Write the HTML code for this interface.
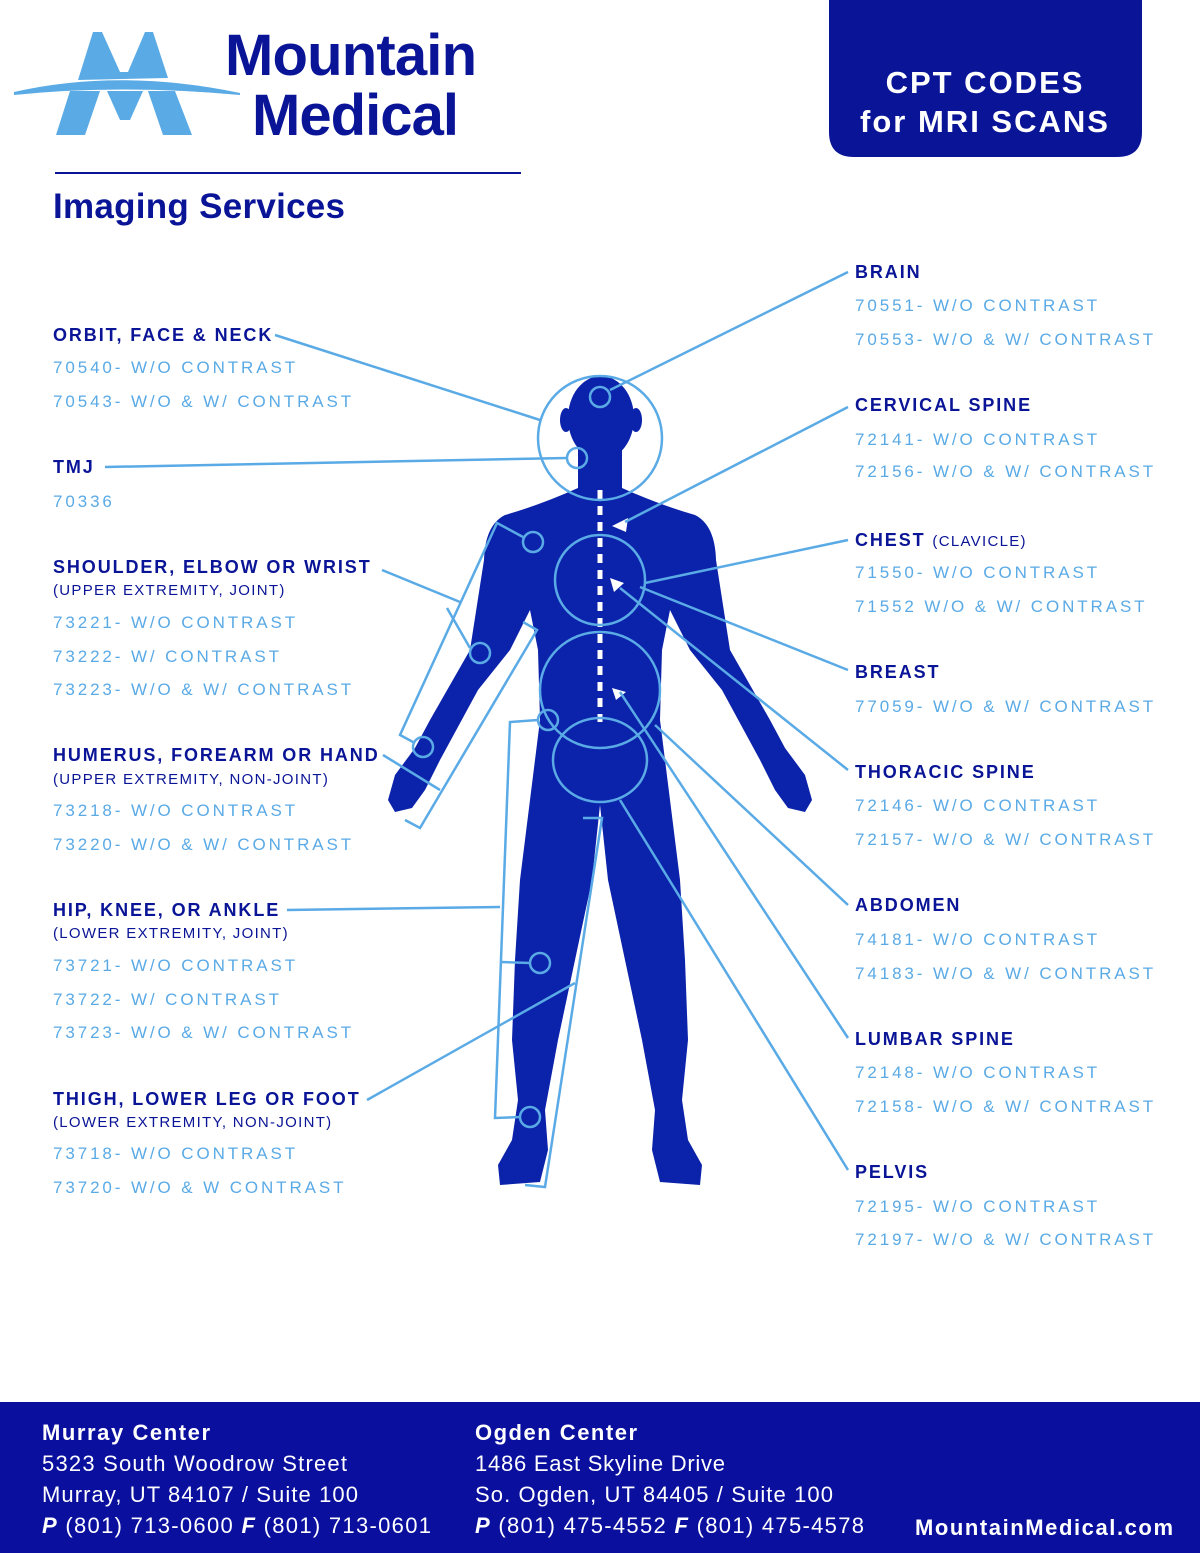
<!DOCTYPE html>
<html><head><meta charset="utf-8"><style>
html,body{margin:0;padding:0;background:#fff;}
body{width:1200px;height:1553px;position:relative;overflow:hidden;font-family:"Liberation Sans",sans-serif;}
svg{position:absolute;left:0;top:0;}
.l{font-weight:bold;fill:#0a1496;font-size:18px;letter-spacing:1.9px;}
.c{fill:#5aaae6;font-size:17px;letter-spacing:2.9px;}
.s{fill:#0a1496;font-size:15px;letter-spacing:1.3px;}
</style></head><body>
<svg width="1200" height="1553" viewBox="0 0 1200 1553">
<g fill="#5aaae6">
<polygon points="78,80 93,32 102,32 120,72 128,72 145,32 153,32 168,78"/>
<path d="M14,92 Q120,68 240,93 L240,95 Q120,84 14,95 Z"/>
<polygon points="70,91 100,91 85,135 56,135"/>
<polygon points="107,91 143,91 130,120 120,120"/>
<polygon points="148,91 175,91 192,135 163,135"/>
</g>
<text x="225" y="75" font-size="58" font-weight="bold" fill="#0a1496" textLength="252">Mountain</text>
<text x="252" y="135" font-size="58" font-weight="bold" fill="#0a1496" textLength="207">Medical</text>
<rect x="55" y="172" width="466" height="2" fill="#0a1496"/>
<text x="53" y="218" font-size="35" font-weight="bold" fill="#0a1496" textLength="292">Imaging Services</text>
<path d="M829,0 H1142 V132 Q1142,157 1117,157 H854 Q829,157 829,132 Z" fill="#0a1496"/>
<text x="985" y="93" text-anchor="middle" font-size="31" font-weight="bold" fill="#fff" letter-spacing="2">CPT CODES</text>
<text x="985" y="132" text-anchor="middle" font-size="31" font-weight="bold" fill="#fff" letter-spacing="2">for MRI SCANS</text>
<g fill="#0b22aa">
<ellipse cx="601" cy="418" rx="33" ry="42"/>
<ellipse cx="566" cy="420" rx="6" ry="12"/><ellipse cx="636" cy="420" rx="6" ry="12"/>
<path d="M578,440 L578,488 Q540,505 505,515 Q485,525 484,560 L470,650 L430,720 L415,748 L395,775 L388,800 L395,812 L412,808 L425,790 L440,760 L478,690 L510,650 L530,610 L538,650 L540,720 L530,800 L520,880 L515,960 L512,1040 L518,1100 L512,1140 L498,1165 L500,1185 L540,1182 L548,1150 L545,1110 L558,1040 L575,960 L592,880 L600,805 L608,880 L625,960 L642,1040 L655,1110 L652,1150 L660,1182 L700,1185 L702,1165 L688,1140 L682,1100 L688,1040 L685,960 L680,880 L670,800 L660,720 L662,650 L670,610 L690,650 L722,690 L760,760 L775,790 L788,808 L805,812 L812,800 L805,775 L785,748 L770,720 L730,650 L716,560 Q715,525 695,515 Q660,505 622,488 L622,440 Z"/>
</g>
<line x1="600" y1="490" x2="600" y2="722" stroke="#fff" stroke-width="5" stroke-dasharray="9,7"/>
<g fill="#fff">
<polygon points="612,526 628,518 626,532"/>
<polygon points="610,578 624,583 614,592"/>
<polygon points="612,688 626,692 616,700"/>
</g>
<g fill="none" stroke="#5aaae6" stroke-width="2.5">
<circle cx="600" cy="438" r="62"/>
<circle cx="600" cy="397" r="10"/><circle cx="577" cy="458" r="10"/>
<circle cx="533" cy="542" r="10"/><circle cx="480" cy="653" r="10"/><circle cx="423" cy="747" r="10"/>
<circle cx="548" cy="720" r="10"/><circle cx="540" cy="963" r="10"/><circle cx="530" cy="1117" r="10"/>
<circle cx="600" cy="580" r="45"/>
<ellipse cx="600" cy="690" rx="60" ry="58"/>
<ellipse cx="600" cy="760" rx="47" ry="42"/>
<line x1="848" y1="272" x2="610" y2="390"/>
<line x1="275" y1="335" x2="540" y2="420"/>
<line x1="105" y1="467" x2="567" y2="458"/>
<line x1="848" y1="407" x2="625" y2="522"/>
<line x1="848" y1="540" x2="645" y2="583"/>
<line x1="848" y1="670" x2="640" y2="587"/>
<line x1="848" y1="770" x2="620" y2="588"/>
<line x1="848" y1="905" x2="655" y2="725"/>
<line x1="848" y1="1038" x2="620" y2="692"/>
<line x1="848" y1="1170" x2="620" y2="800"/>
<line x1="382" y1="570" x2="460" y2="602"/>
<polyline points="523,537 497,523 400,735 413,742"/>
<line x1="447" y1="608" x2="470" y2="648"/>
<line x1="383" y1="755" x2="440" y2="790"/>
<polyline points="523,622 537,630 420,828 405,820"/>
<line x1="287" y1="910" x2="500" y2="907"/>
<polyline points="538,720 510,722 495,1118 520,1117"/>
<line x1="500" y1="962" x2="530" y2="963"/>
<line x1="367" y1="1100" x2="575" y2="983"/>
<polyline points="583,818 602,818 545,1187 525,1185"/>
</g>
<text class="l" x="53" y="341">ORBIT, FACE &amp; NECK</text>
<text class="c" x="53" y="373">70540- W/O CONTRAST</text>
<text class="c" x="53" y="407">70543- W/O &amp; W/ CONTRAST</text>
<text class="l" x="53" y="473">TMJ</text>
<text class="c" x="53" y="507">70336</text>
<text class="l" x="53" y="573">SHOULDER, ELBOW OR WRIST</text>
<text class="s" x="53" y="595">(UPPER EXTREMITY, JOINT)</text>
<text class="c" x="53" y="628">73221- W/O CONTRAST</text>
<text class="c" x="53" y="662">73222- W/ CONTRAST</text>
<text class="c" x="53" y="695">73223- W/O &amp; W/ CONTRAST</text>
<text class="l" x="53" y="761">HUMERUS, FOREARM OR HAND</text>
<text class="s" x="53" y="784">(UPPER EXTREMITY, NON-JOINT)</text>
<text class="c" x="53" y="816">73218- W/O CONTRAST</text>
<text class="c" x="53" y="850">73220- W/O &amp; W/ CONTRAST</text>
<text class="l" x="53" y="916">HIP, KNEE, OR ANKLE</text>
<text class="s" x="53" y="938">(LOWER EXTREMITY, JOINT)</text>
<text class="c" x="53" y="971">73721- W/O CONTRAST</text>
<text class="c" x="53" y="1005">73722- W/ CONTRAST</text>
<text class="c" x="53" y="1038">73723- W/O &amp; W/ CONTRAST</text>
<text class="l" x="53" y="1105">THIGH, LOWER LEG OR FOOT</text>
<text class="s" x="53" y="1127">(LOWER EXTREMITY, NON-JOINT)</text>
<text class="c" x="53" y="1159">73718- W/O CONTRAST</text>
<text class="c" x="53" y="1193">73720- W/O &amp; W CONTRAST</text>
<text class="l" x="855" y="278">BRAIN</text>
<text class="c" x="855" y="311">70551- W/O CONTRAST</text>
<text class="c" x="855" y="345">70553- W/O &amp; W/ CONTRAST</text>
<text class="l" x="855" y="411">CERVICAL SPINE</text>
<text class="c" x="855" y="445">72141- W/O CONTRAST</text>
<text class="c" x="855" y="477">72156- W/O &amp; W/ CONTRAST</text>
<text class="l" x="855" y="546">CHEST <tspan class="s" font-weight="normal">(CLAVICLE)</tspan></text>
<text class="c" x="855" y="578">71550- W/O CONTRAST</text>
<text class="c" x="855" y="612">71552 W/O &amp; W/ CONTRAST</text>
<text class="l" x="855" y="678">BREAST</text>
<text class="c" x="855" y="712">77059- W/O &amp; W/ CONTRAST</text>
<text class="l" x="855" y="778">THORACIC SPINE</text>
<text class="c" x="855" y="811">72146- W/O CONTRAST</text>
<text class="c" x="855" y="845">72157- W/O &amp; W/ CONTRAST</text>
<text class="l" x="855" y="911">ABDOMEN</text>
<text class="c" x="855" y="945">74181- W/O CONTRAST</text>
<text class="c" x="855" y="979">74183- W/O &amp; W/ CONTRAST</text>
<text class="l" x="855" y="1045">LUMBAR SPINE</text>
<text class="c" x="855" y="1078">72148- W/O CONTRAST</text>
<text class="c" x="855" y="1112">72158- W/O &amp; W/ CONTRAST</text>
<text class="l" x="855" y="1178">PELVIS</text>
<text class="c" x="855" y="1212">72195- W/O CONTRAST</text>
<text class="c" x="855" y="1245">72197- W/O &amp; W/ CONTRAST</text>
<rect x="0" y="1402" width="1200" height="151" fill="#0a0f9e"/>
<g fill="#fff" font-size="22">
<text x="42" y="1440" font-weight="bold" textLength="168">Murray Center</text>
<text x="42" y="1471" textLength="305">5323 South Woodrow Street</text>
<text x="42" y="1502" textLength="316">Murray, UT 84107 / Suite 100</text>
<text x="42" y="1533" textLength="389"><tspan font-weight="bold" font-style="italic">P</tspan> (801) 713-0600  <tspan font-weight="bold" font-style="italic">F</tspan> (801) 713-0601</text>
<text x="475" y="1440" font-weight="bold" textLength="162">Ogden Center</text>
<text x="475" y="1471" textLength="250">1486 East Skyline Drive</text>
<text x="475" y="1502" textLength="358">So. Ogden, UT 84405 / Suite 100</text>
<text x="475" y="1533" textLength="389"><tspan font-weight="bold" font-style="italic">P</tspan> (801) 475-4552  <tspan font-weight="bold" font-style="italic">F</tspan> (801) 475-4578</text>
<text x="915" y="1535" font-weight="bold" textLength="258">MountainMedical.com</text>
</g>
</svg>
</body></html>
